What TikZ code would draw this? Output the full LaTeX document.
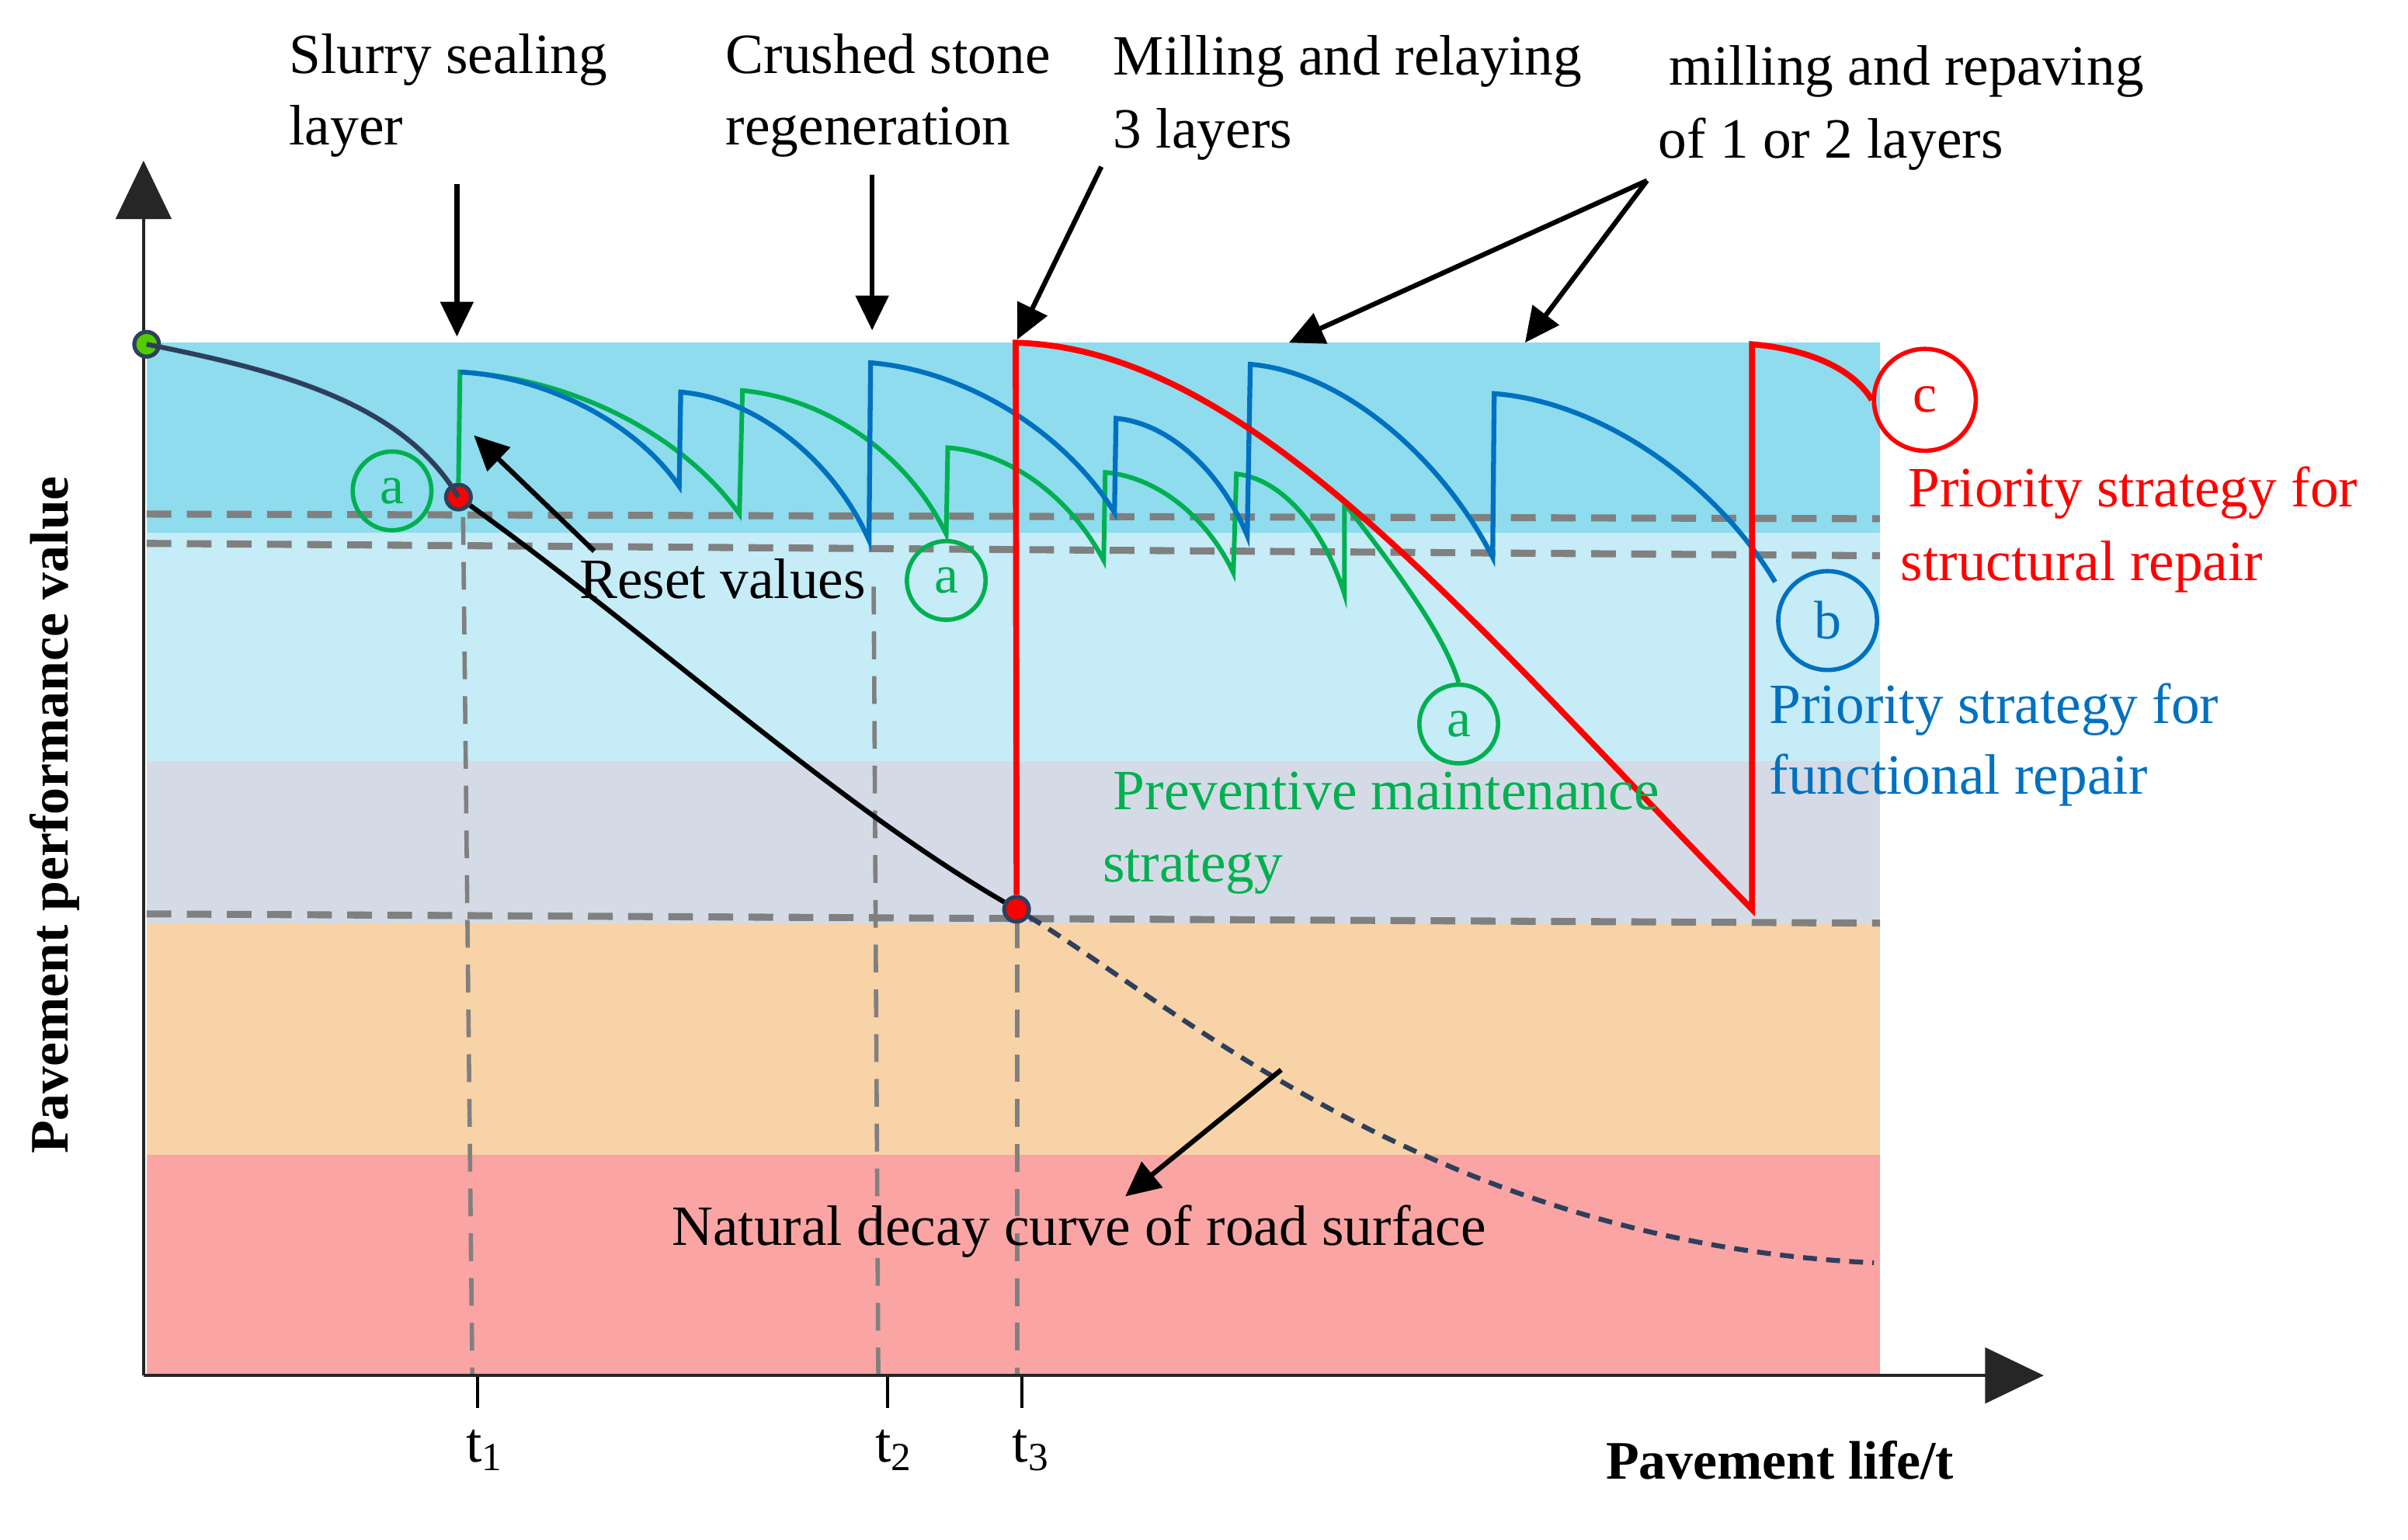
\documentclass[tikz,border=0pt]{standalone}
\usepackage{fontspec}
\setmainfont{Liberation Serif}
\usetikzlibrary{arrows.meta}
\definecolor{bandA}{HTML}{8EDCEE}
\definecolor{bandB}{HTML}{C5ECF7}
\definecolor{bandC}{HTML}{D5DBE6}
\definecolor{bandD}{HTML}{F8D3A7}
\definecolor{bandE}{HTML}{FBA4A4}
\definecolor{pgreen}{HTML}{00B050}
\definecolor{pblue}{HTML}{0070C0}
\definecolor{pred}{HTML}{FF0000}
\definecolor{navy}{HTML}{2E3F5C}
\definecolor{dgray}{HTML}{808080}
\tikzset{
  lbl/.style={font=\fontsize{21}{25}\selectfont, anchor=base west, inner sep=0},
  bold/.style={font=\fontsize{20}{24}\selectfont\bfseries, inner sep=0},
  hdash/.style={dgray, line width=2.6pt, dash pattern=on 0.32cm off 0.2cm},
  vdash/.style={dgray, line width=1.6pt, dash pattern=on 0.36cm off 0.22cm},
  gline/.style={pgreen, line width=1.7pt},
  bline/.style={pblue, line width=1.8pt},
  rline/.style={pred, line width=2.2pt},
  callout/.style={black, line width=1.8pt, -{Triangle[length=0.45cm,width=0.42cm]}},
  axis/.style={black!85, line width=1.2pt, -{Triangle[length=0.76cm,width=0.72cm]}},
  tag/.style={circle, draw, line width=1.6pt, minimum size=1.02cm, inner sep=0, font=\fontsize{20}{20}\selectfont},
  dot/.style={circle, draw=navy, line width=1.5pt, inner sep=0, minimum size=0.32cm},
  tick/.style={black, line width=1.2pt}
}
\begin{document}
\begin{tikzpicture}[x=0.02cm,y=-0.02cm]
\useasboundingbox (0,0) rectangle (1560,997.5);
% bands
\fill[bandA] (95,222) rectangle (1218,345);
\fill[bandB] (95,345) rectangle (1218,493);
\fill[bandC] (95,493) rectangle (1218,598);
\fill[bandD] (95,598) rectangle (1218,748);
\fill[bandE] (95,748) rectangle (1218,891);
% dashed guides
\draw[hdash] (95,333) -- (1218,336);
\draw[hdash] (95,352) -- (1218,360);
\draw[hdash] (95,592) -- (1218,598);
\draw[vdash] (300,335) -- (306,891);
\draw[vdash] (566,380) -- (569,891);
\draw[vdash] (659,596) -- (659,891);
% axes
\coordinate (O) at (93,891);
\coordinate (Ytop) at (93,104);
\coordinate (Xend) at (1324,891);
\draw[axis] (O) -- (Ytop);
\draw[axis] (O) -- (Xend);
% ticks
\coordinate (t1a) at (309.5,892); \coordinate (t1b) at (309.5,912);
\coordinate (t2a) at (575,892); \coordinate (t2b) at (575,912);
\coordinate (t3a) at (662,892); \coordinate (t3b) at (662,912);
\draw[tick] (t1a) -- (t1b);
\draw[tick] (t2a) -- (t2b);
\draw[tick] (t3a) -- (t3b);
\node[font=\fontsize{21}{21}\selectfont, anchor=base] (lt1) at (314,947) {t\textsubscript{1}};
\node[font=\fontsize{21}{21}\selectfont, anchor=base] (lt2) at (579,947) {t\textsubscript{2}};
\node[font=\fontsize{21}{21}\selectfont, anchor=base] (lt3) at (668,947) {t\textsubscript{3}};
% dots
\node[dot, fill=green!60!yellow!80!black] (d0) at (95,223) {};
\node[dot, fill=pred] (d1) at (297,322) {};
\node[dot, fill=pred] (d3) at (658.6,589) {};
% natural decay
\draw[navy, line width=1.8pt] (d0.center) .. controls (180,240) and (260,260) .. (d1.center);
\draw[black, line width=1.8pt] (d1) .. controls (420,410) and (540,520) .. (d3);
\coordinate (dend) at (1214,818);
\draw[navy, line width=1.8pt, dash pattern=on 0.18cm off 0.12cm] (d3) .. controls (760,650) and (930,805) .. (dend);
% green strategy
\node[tag, draw=pgreen, text=pgreen] (a1) at (254,318) {a};
\node[tag, draw=pgreen, text=pgreen] (a2) at (613,376) {a};
\node[tag, draw=pgreen, text=pgreen] (a3) at (945,469) {a};
\draw[gline] (d1.north) -- (298,241)
  .. controls (370,245) and (442,281) .. (479,333) -- (481,253)
  .. controls (535,258) and (588,294) .. (613,346) -- (614,290)
  .. controls (653,293) and (692,320) .. (715,363) -- (716,306)
  .. controls (750,309) and (782,335) .. (799,371) -- (801,307)
  .. controls (829,310) and (857,340) .. (871,385) -- (871,326)
  .. controls (905,370) and (935,410) .. (a3.north);
% blue strategy
\node[tag, draw=pblue, text=pblue, minimum size=1.28cm] (b) at (1184,402) {b};
\draw[bline] (298,241)
  .. controls (354,244) and (412,274) .. (440,315) -- (441,254)
  .. controls (490,258) and (540,298) .. (563,350) -- (564,235)
  .. controls (626,240) and (690,280) .. (722,332) -- (723,271)
  .. controls (757,274) and (791,305) .. (808,347) -- (810,236)
  .. controls (871,241) and (935,298) .. (967,361) -- (968,255)
  .. controls (1035,260) and (1110,310) .. (1150,377);
% red strategy
\node[tag, draw=pred, text=pred, minimum size=1.32cm] (c) at (1247,259) {c};
\draw[rline] (d3) -- (658,222)
  .. controls (810,226) and (950,400) .. (1135,589) -- (1135,223)
  .. controls (1170,226) and (1200,238) .. (c.west);
% labels top
\node[lbl] (s1) at (187,47.5) {Slurry sealing};
\node[lbl] (s2) at (187,93.7) {layer};
\node[lbl] (c1) at (470,47.5) {Crushed stone};
\node[lbl] (c2) at (470,93.7) {regeneration};
\node[lbl] (m1) at (721,48.8) {Milling and relaying};
\node[lbl] (m2) at (721,96) {3 layers};
\node[lbl] (r1) at (1081,55.2) {milling and repaving};
\node[lbl] (r2) at (1074,102.6) {of 1 or 2 layers};
% callout arrows
\coordinate (sa) at (296,119); \coordinate (sb) at (296,218);
\coordinate (ca) at (565,113); \coordinate (cb) at (565,214);
\coordinate (ma) at (713.5,108); \coordinate (mb) at (659,220);
\coordinate (ra) at (1067,117); \coordinate (rb1) at (835,222); \coordinate (rb2) at (988,222);
\draw[callout] (sa) -- (sb);
\draw[callout] (ca) -- (cb);
\draw[callout] (ma) -- (mb);
\draw[callout] (ra) -- (rb1);
\draw[callout] (ra) -- (rb2);
% reset values
\node[lbl] (rv) at (375,387.5) {Reset values};
\coordinate (rva) at (385,357); \coordinate (rvb) at (307,282);
\draw[callout] (rva) -- (rvb);
% strategy texts
\node[lbl, text=pgreen] (p1) at (721,524.6) {Preventive maintenance};
\node[lbl, text=pgreen] (p2) at (714,571) {strategy};
\node[lbl, text=pred] (sr1) at (1236,328.5) {Priority strategy for};
\node[lbl, text=pred] (sr2) at (1231,376) {structural repair};
\node[lbl, text=pblue] (fr1) at (1146,468.8) {Priority strategy for};
\node[lbl, text=pblue] (fr2) at (1146,514.3) {functional repair};
% natural decay label
\node[lbl] (nd) at (435,806.6) {Natural decay curve of road surface};
\coordinate (na) at (830,693); \coordinate (nb) at (729,775);
\draw[callout] (na) -- (nb);
% axis titles
\node[bold, anchor=base west] (xl) at (1040,958) {Pavement life/t};
\node[bold, rotate=90, anchor=base] (yl) at (44,528) {Pavement performance value};
\end{tikzpicture}
\end{document}
